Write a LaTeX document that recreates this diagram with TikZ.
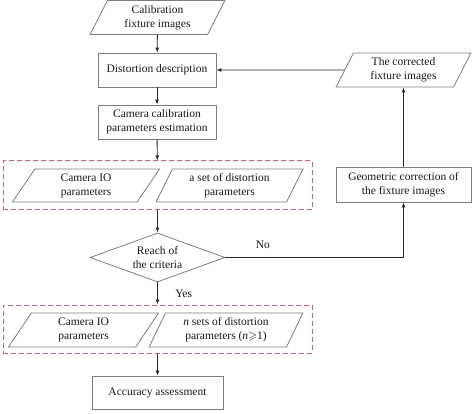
\documentclass[tikz,border=0pt]{standalone}
\usepackage{amssymb}
\usepackage{fontspec}
\setmainfont{Liberation Serif}
\usetikzlibrary{shapes.geometric,arrows.meta}
\definecolor{grpred}{RGB}{198,96,106}
\definecolor{boxgray}{RGB}{125,125,125}
\begin{document}
\begin{tikzpicture}[x=1pt,y=-1pt,
  every node/.style={font=\fontsize{11.5}{14}\selectfont, align=center, text=black!90},
  box/.style={draw=boxgray, line width=0.8pt, rectangle, minimum height=34pt, inner sep=2pt},
  io/.style={draw=boxgray, line width=0.8pt, trapezium, trapezium left angle=66,
    trapezium right angle=114, trapezium stretches=true, minimum height=34pt, inner sep=1pt},
  grp/.style={draw=grpred, line width=1pt, dash pattern=on 5pt off 3pt, rectangle, minimum width=309pt},
  dec/.style={draw=boxgray, line width=0.8pt, diamond, aspect=3, inner sep=0pt,
    minimum width=135pt, minimum height=49pt},
  arr/.style={-{Latex[length=5pt,width=4pt]}, line width=0.9pt, draw=black!85}]
\useasboundingbox (0,0) rectangle (474,414);
% main column
\node[io, minimum width=135pt] (calib) at (157.5,17.5) {Calibration\\fixture images};
\node[box, minimum width=118pt] (dist) at (157,70) {Distortion description};
\node[box, minimum width=118pt] (cam) at (157,122) {Camera calibration\\parameters estimation};
\node[grp, minimum height=49pt] (g1) at (157.5,185.5) {};
\node[io, minimum width=148pt, minimum height=33pt] (io1) at (86,185.5) {Camera IO\\parameters};
\node[io, minimum width=147pt, minimum height=33pt] (ds1) at (229.5,185.5) {a set of distortion\\parameters};
\node[dec] (crit) at (157.5,257.5) {Reach of\\the criteria};
\node[grp, minimum height=48pt] (g2) at (157.5,329) {};
\node[io, minimum width=151pt, minimum height=34pt] (io2) at (83.5,330) {Camera IO\\parameters};
\node[io, minimum width=154pt, minimum height=34pt] (ds2) at (226,330) {\textit{n} sets of distortion\\parameters (\textit{n}$\geqslant$1)};
\node[box, minimum width=131pt, minimum height=33pt] (acc) at (157.5,392.5) {Accuracy assessment};
% right column
\node[box, minimum width=135pt, minimum height=35pt] (geo) at (403.5,184.5) {Geometric correction of\\the fixture images};
\node[io, minimum width=135pt] (corr) at (403.5,70) {The corrected\\fixture images};
% connectors
\draw[arr] (calib) -- (dist);
\draw[arr] (dist) -- (cam);
\draw[arr] (cam) -- (g1);
\draw[arr] (g1) -- (crit);
\draw[arr] (crit) -- node[anchor=west, xshift=14pt] {Yes} (g2);
\draw[arr] (g2) -- (acc);
\draw[arr] (crit.east) -- node[pos=0.21, above=5pt] {No} (crit.east -| geo.south) -- (geo.south);
\draw[arr] (geo) -- (corr);
\draw[arr] (corr) -- (dist);
\end{tikzpicture}
\end{document}
